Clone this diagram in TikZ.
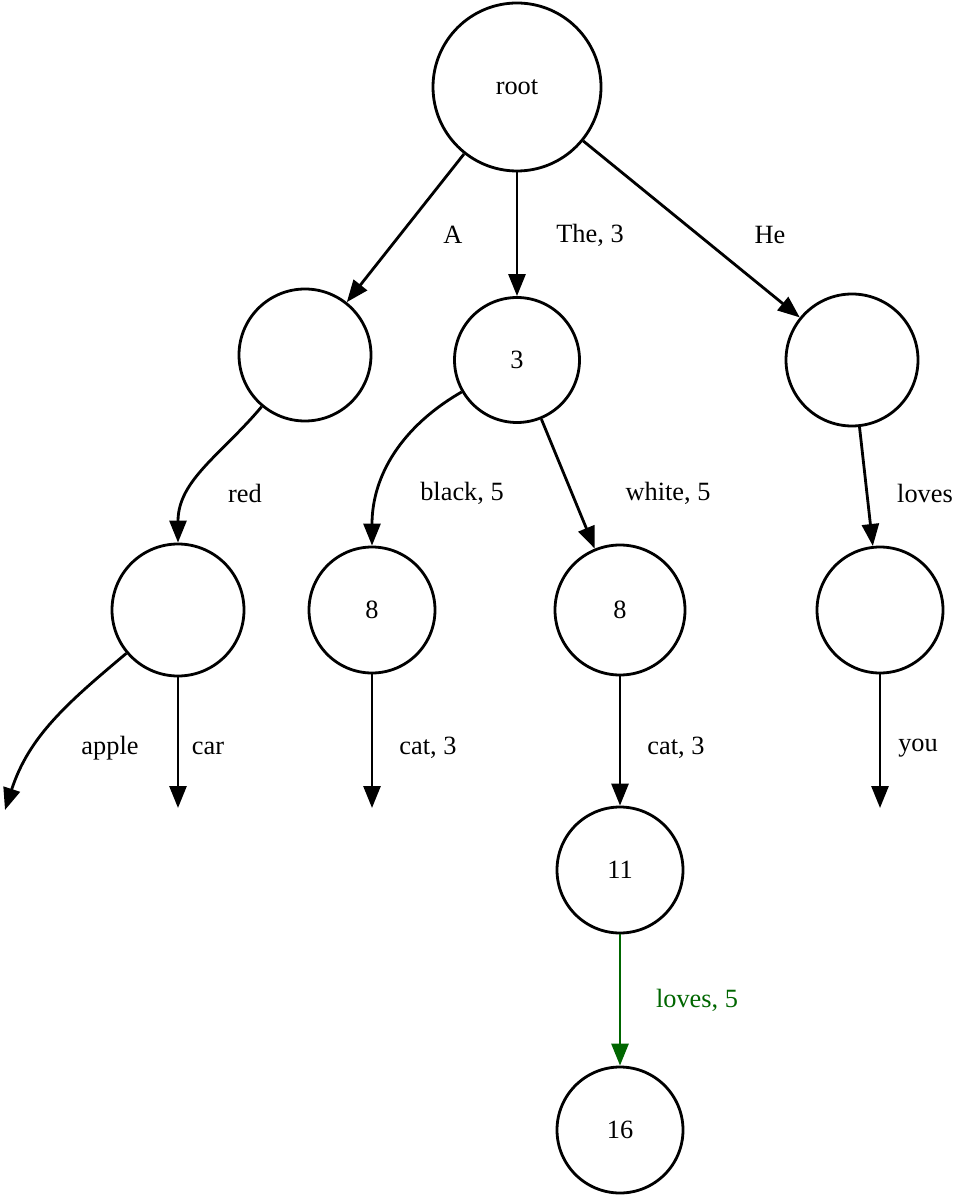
\documentclass[tikz,border=0pt]{standalone}
\usepackage{fontspec}
\setmainfont{Liberation Serif}
\usetikzlibrary{arrows.meta}
\newlength{\du}
\setlength{\du}{0.02cm}
\definecolor{pathgreen}{rgb}{0.0,0.4,0.0}
\tikzset{
  state/.style={circle,draw,line width=1.6pt,inner sep=0pt,font=\fontsize{15}{18}\selectfont},
  edge/.style={line width=1.6pt,-{Triangle[length=0.44cm,width=0.34cm]}},
  lbl/.style={font=\fontsize{15}{18}\selectfont,anchor=center}
}
\begin{document}
\begin{tikzpicture}[x=\du,y=-\du]
\useasboundingbox (0,0) rectangle (964,1195);
% nodes
\node[state,minimum size=168\du] (root) at (517,87) {root};
\node[state,minimum size=132\du] (a) at (305,355) {};
\node[state,minimum size=125\du] (the) at (517,360) {3};
\node[state,minimum size=132\du] (he) at (852,360) {};
\node[state,minimum size=132\du] (red) at (178,610) {};
\node[state,minimum size=126\du] (black) at (372,610) {8};
\node[state,minimum size=130\du] (white) at (620,610) {8};
\node[state,minimum size=126\du] (loves) at (880,610) {};
\node[state,minimum size=126\du] (cat) at (620,870) {11};
\node[state,minimum size=126\du] (end) at (620,1130) {16};
% free ends
\coordinate (apple) at (5,810);
\coordinate (car) at (178,808);
\coordinate (blackcat) at (372,808);
\coordinate (you) at (880,808);
% edges
\draw[edge] (root) -- (a);
\draw[edge] (root) -- (the);
\draw[edge] (root) -- (he);
\draw[edge] (a) to[out=-130,in=90] (red);
\draw[edge] (the) to[out=-150,in=90] (black);
\draw[edge] (the) -- (white);
\draw[edge] (he) -- (loves);
\draw[edge] (red) to[out=-140,in=72] (apple);
\draw[edge] (red) -- (car);
\draw[edge] (black) -- (blackcat);
\draw[edge] (white) -- (cat);
\draw[edge] (loves) -- (you);
\draw[edge,pathgreen] (cat) -- (end);
% labels
\node[lbl] at (453,235) {A};
\node[lbl] at (590,235) {The, 3};
\node[lbl] at (770,235) {He};
\node[lbl] at (245,493) {red};
\node[lbl] at (462,493) {black, 5};
\node[lbl] at (668,493) {white, 5};
\node[lbl] at (925,493) {loves};
\node[lbl] at (110,748) {apple};
\node[lbl] at (208,748) {car};
\node[lbl] at (428,748) {cat, 3};
\node[lbl] at (676,748) {cat, 3};
\node[lbl] at (918,748) {you};
\node[lbl,pathgreen] at (697,1000) {loves, 5};
\end{tikzpicture}
\end{document}
